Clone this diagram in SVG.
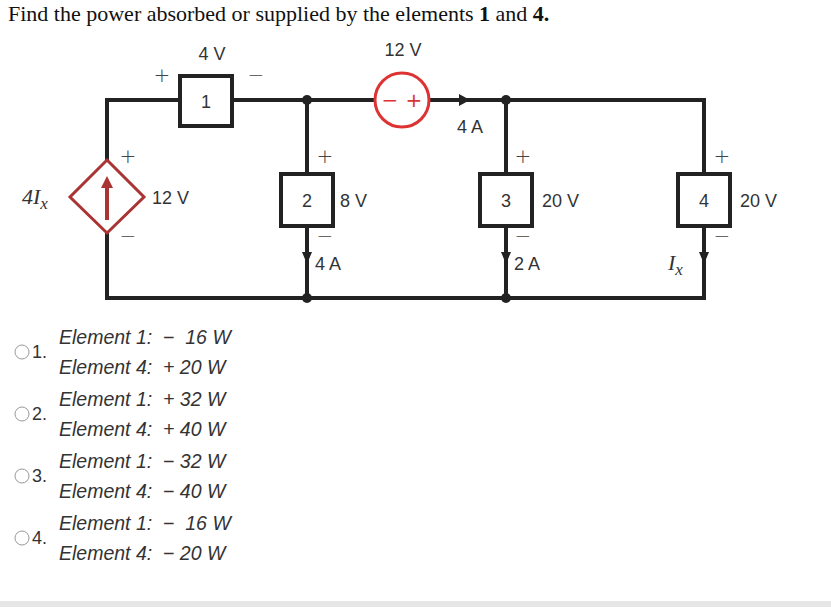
<svg xmlns="http://www.w3.org/2000/svg" width="831" height="607" viewBox="0 0 831 607">
<style>
.w{stroke:#222;stroke-width:4;fill:none}
.b{stroke:#222;stroke-width:4;fill:#fff}
.t{font-family:"Liberation Sans",Arial,sans-serif;font-size:18px;fill:#333}
.p{font-family:"DejaVu Sans",sans-serif;font-size:20px;fill:#444;font-weight:200}
.i{font-family:"Liberation Serif",serif;font-style:italic;font-size:22px;fill:#333}
.o{font-family:"Liberation Sans",Arial,sans-serif;font-style:italic;font-size:19.5px;fill:#333;white-space:pre}
.r{fill:none;stroke:#999;stroke-width:1}
</style>
<rect width="831" height="607" fill="#fff"/>
<text x="8" y="21" font-family="Liberation Serif,serif" font-size="22" fill="#111">Find the power absorbed or supplied by the elements <tspan font-weight="bold">1</tspan> and <tspan font-weight="bold">4.</tspan></text>
<g id="connectors">
<path class="w" d="M107 160V100H180M232 100H374M430 100H704V174M704 226V298H107V233"/>
<path class="w" d="M307 100V174M307 226V298M506 100V174M506 226V298"/>
<circle cx="307" cy="100" r="5" fill="#222"/><circle cx="506" cy="100" r="5" fill="#222"/>
<circle cx="307" cy="298" r="5" fill="#222"/><circle cx="506" cy="298" r="5" fill="#222"/>
<path d="M459 94L470 100L459 106Z" fill="#222"/>
<path d="M302 252L307 264L312 252Z" fill="#222"/>
<path d="M501 252L506 264L511 252Z" fill="#222"/>
<path d="M699 252L704 264L709 252Z" fill="#222"/>
</g>
<g id="e1"><rect class="b" x="180" y="76" width="52" height="50"/><text class="t" x="206" y="108" text-anchor="middle">1</text>
<text class="t" x="212" y="60" text-anchor="middle">4 V</text><text class="p" x="162" y="82" text-anchor="middle">+</text><text class="p" x="256" y="82" text-anchor="middle">−</text></g>
<g id="src"><circle cx="402" cy="100" r="27" fill="#fff" stroke="#d33" stroke-width="3"/>
<text x="390" y="107" font-family="DejaVu Sans,sans-serif" font-size="20" fill="#d33" text-anchor="middle">−</text>
<text x="414" y="107" font-family="DejaVu Sans,sans-serif" font-size="20" fill="#d33" text-anchor="middle">+</text>
<text class="t" x="403" y="56" text-anchor="middle">12 V</text><text class="t" x="470" y="133" text-anchor="middle">4 A</text></g>
<g id="dep"><path d="M107 160L144 197L107 233L70 197Z" fill="#fff" stroke="#a33" stroke-width="3"/>
<path d="M107 220V186" stroke="#a33" stroke-width="4"/><path d="M101 188L107 176L113 188Z" fill="#a33"/>
<text class="i" x="22" y="204">4<tspan>I</tspan><tspan font-size="17" dy="5">x</tspan></text>
<text class="t" x="152" y="204">12 V</text><text class="p" x="128" y="163" text-anchor="middle">+</text><text class="p" x="128" y="243" text-anchor="middle">−</text></g>
<g id="e2"><rect class="b" x="281" y="174" width="52" height="52"/><text class="t" x="307" y="207" text-anchor="middle">2</text>
<text class="t" x="340" y="207">8 V</text><text class="p" x="325" y="163" text-anchor="middle">+</text><text class="p" x="325" y="243" text-anchor="middle">−</text><text class="t" x="315" y="270">4 A</text></g>
<g id="e3"><rect class="b" x="480" y="174" width="52" height="52"/><text class="t" x="506" y="207" text-anchor="middle">3</text>
<text class="t" x="542" y="207">20 V</text><text class="p" x="523" y="163" text-anchor="middle">+</text><text class="p" x="523" y="243" text-anchor="middle">−</text><text class="t" x="514" y="270">2 A</text></g>
<g id="e4"><rect class="b" x="678" y="174" width="52" height="52"/><text class="t" x="704" y="207" text-anchor="middle">4</text>
<text class="t" x="740" y="207">20 V</text><text class="p" x="722" y="163" text-anchor="middle">+</text><text class="p" x="722" y="243" text-anchor="middle">−</text>
<text class="i" x="668" y="270">I<tspan font-size="17" dy="5">x</tspan></text></g>
<g id="options">
<circle class="r" cx="22" cy="352" r="7"/><text class="t" x="32" y="358" font-size="16">1.</text>
<text class="o" x="59" y="344">Element 1:  −  16 W</text><text class="o" x="59" y="374">Element 4:  + 20 W</text>
<circle class="r" cx="22" cy="414" r="7"/><text class="t" x="32" y="420" font-size="16">2.</text>
<text class="o" x="59" y="406">Element 1:  + 32 W</text><text class="o" x="59" y="436">Element 4:  + 40 W</text>
<circle class="r" cx="22" cy="476" r="7"/><text class="t" x="32" y="482" font-size="16">3.</text>
<text class="o" x="59" y="468">Element 1:  − 32 W</text><text class="o" x="59" y="498">Element 4:  − 40 W</text>
<circle class="r" cx="22" cy="538" r="7"/><text class="t" x="32" y="544" font-size="16">4.</text>
<text class="o" x="59" y="530">Element 1:  −  16 W</text><text class="o" x="59" y="560">Element 4:  − 20 W</text>
</g>
<rect x="0" y="601" width="831" height="6" fill="#e6e6e6"/>
</svg>
